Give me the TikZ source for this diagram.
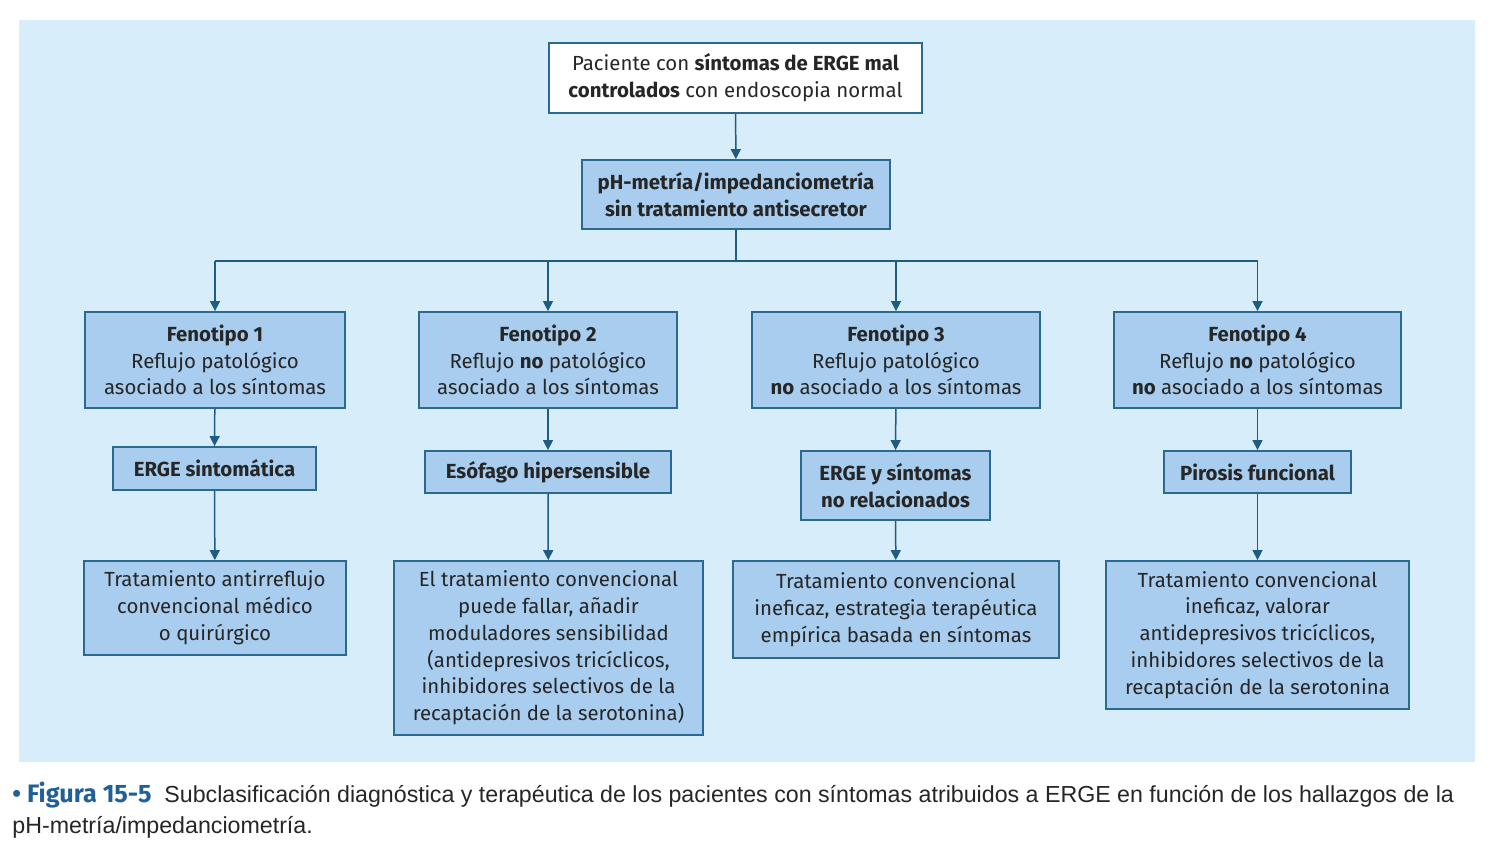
\documentclass[tikz,border=0pt]{standalone}
\usepackage{fontspec}
\setmainfont{Fira Sans}
\newfontfamily\capfont{Liberation Sans}
\usetikzlibrary{arrows.meta}
\definecolor{bg}{HTML}{D7EEFA}
\definecolor{bfill}{HTML}{A8CDEE}
\definecolor{bline}{HTML}{2A6A90}
\definecolor{aline}{HTML}{1F5C82}
\definecolor{capblue}{HTML}{1F5F9A}
\newcommand\bx[7]{\node[#2,minimum width=#5*0.5pt,minimum height=#6*0.5pt] (#1) at (#3,#4) {#7};}
\tikzset{
 base/.style={draw=bline,line width=0.9pt,inner sep=0pt,align=center,font=\fontsize{10.2}{13.4}\selectfont,text=black!85},
 wbox/.style={base,fill=white},
 bbox/.style={base,fill=bfill},
 arr/.style={draw=aline,line width=0.75pt,-{Triangle[length=5pt,width=5pt]}},
 ln/.style={draw=aline,line width=0.75pt}
}
\begin{document}
\begin{tikzpicture}[x=0.5pt,y=-0.5pt]
\useasboundingbox (0,0) rectangle (1496,847);
\fill[white] (0,0) rectangle (1496,847);
\fill[bg] (19,20) rectangle (1475,762);
\bx{top}{wbox}{735.5}{78}{373}{70}{Paciente con \textbf{síntomas de ERGE mal}\\\textbf{controlados} con endoscopia normal}
\bx{ph}{bbox}{736}{194.5}{308}{69}{\textbf{pH-metría/impedanciometría}\\\textbf{sin tratamiento antisecretor}}
\bx{f1}{bbox}{215}{360}{260}{96}{\textbf{Fenotipo 1}\\Reflujo patológico\\asociado a los síntomas}
\bx{f2}{bbox}{548}{360}{258}{96}{\textbf{Fenotipo 2}\\Reflujo \textbf{no} patológico\\asociado a los síntomas}
\bx{f3}{bbox}{896}{360}{288}{96}{\textbf{Fenotipo 3}\\Reflujo patológico\\\textbf{no} asociado a los síntomas}
\bx{f4}{bbox}{1257.5}{360}{287}{96}{\textbf{Fenotipo 4}\\Reflujo \textbf{no} patológico\\\textbf{no} asociado a los síntomas}
\bx{m1}{bbox}{214.5}{468.5}{203}{43}{\textbf{ERGE sintomática}}
\bx{m2}{bbox}{548}{472}{246}{42}{\textbf{Esófago hipersensible}}
\bx{m3}{bbox}{895.5}{485.5}{189}{69}{\textbf{ERGE y síntomas}\\\textbf{no relacionados}}
\bx{m4}{bbox}{1257.5}{472}{187}{42}{\textbf{Pirosis funcional}}
\bx{b1}{bbox}{215}{608}{262}{94}{Tratamiento antirreflujo\\convencional médico\\o quirúrgico}
\bx{b2}{bbox}{548.5}{648}{309}{174}{El tratamiento convencional\\puede fallar, añadir\\moduladores sensibilidad\\(antidepresivos tricíclicos,\\inhibidores selectivos de la\\recaptación de la serotonina)}
\bx{b3}{bbox}{896}{609.5}{326}{97}{Tratamiento convencional\\ineficaz, estrategia terapéutica\\empírica basada en síntomas}
\bx{b4}{bbox}{1257.5}{635}{303}{148}{Tratamiento convencional\\ineficaz, valorar\\antidepresivos tricíclicos,\\inhibidores selectivos de la\\recaptación de la serotonina}
\coordinate (j) at (736,261);
\coordinate (jl) at (215,261);
\coordinate (jr) at (1257.5,261);
\draw[arr] (top) -- (ph);
\draw[ln] (ph.south) -- (j);
\draw[ln] (jl) -- (jr);
\foreach \f in {f1,f2,f3,f4}{\draw[arr] (\f.north |- j) -- (\f.north);}
\foreach \i in {1,2,3,4}{\draw[arr] (f\i) -- (m\i); \draw[arr] (m\i) -- (b\i);}
\node[anchor=west,inner sep=0pt,font=\capfont\fontsize{11.6}{15.5}\selectfont,text=black!85,align=left] (cap) at (12,810)
{{\color{capblue}\fontspec{Fira Sans}\textbf{\fontsize{12.6}{15.5}\selectfont • Figura 15-5}}\ \ Subclasificación diagnóstica y terapéutica de los pacientes con síntomas atribuidos a ERGE en función de los hallazgos de la\\pH-metría/impedanciometría.};
\end{tikzpicture}
\end{document}
